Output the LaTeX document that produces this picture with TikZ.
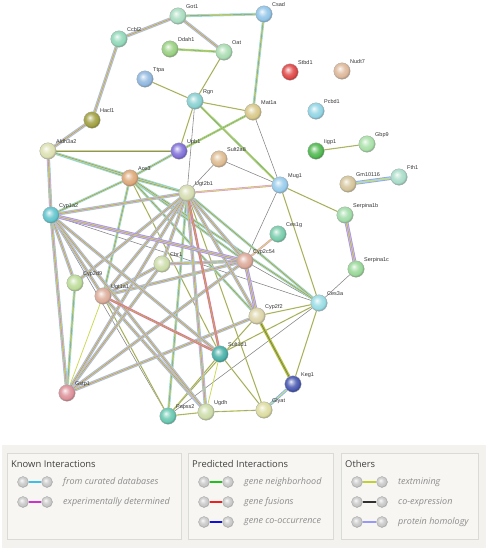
\documentclass[tikz,border=0pt]{standalone}
\usepackage{fontspec}
\setmainfont{Liberation Sans}
\newfontfamily\legfont{Open Sans}
\usetikzlibrary{calc}
\pgfdeclarelayer{bg}
\pgfsetlayers{bg,main}
\definecolor{ccur}{HTML}{3CC0E8}
\definecolor{cexp}{HTML}{D030D0}
\definecolor{cnb}{HTML}{20C020}
\definecolor{cfus}{HTML}{F02020}
\definecolor{cocc}{HTML}{1010E0}
\definecolor{ctm}{HTML}{C0D030}
\definecolor{ccoe}{HTML}{303030}
\definecolor{chom}{HTML}{9898F8}
\definecolor{legbg}{HTML}{F3F2EF}
\definecolor{boxbg}{HTML}{F7F6F3}
\definecolor{boxln}{HTML}{DADAD6}
\definecolor{titc}{HTML}{404040}
\definecolor{itc}{HTML}{8C8C8C}
\colorlet{pballc}{white}
\pgfdeclareradialshading[pballc]{sball}{\pgfqpoint{-7bp}{8bp}}{%
  color(0bp)=(pballc!8!white); color(5bp)=(pballc!40!white);
  color(14bp)=(pballc!85!white); color(22bp)=(pballc);
  color(26bp)=(pballc!80!black); color(50bp)=(pballc!80!black)}
\newcommand\protnode[4]{%
  \definecolor{pc#1}{HTML}{#4}%
  \colorlet{pballc}{pc#1}%
  \node[prot] (#1) at (#2,#3) {};
  \node[lbl] (L#1) at ([shift={(8,-9)}]#1.center) {#1};}
\newcommand\legitem[6]{%
  \node[lball] (#1a) at (#2,#4) {};
  \node[lball] (#1b) at (#3,#4) {};
  \draw[draw=#5, line width=1.3pt] (#1a) -- (#1b);
  \node[legitem] (#1t) at (#3+16,#4) {#6};}
\begin{document}
\begin{tikzpicture}[x=1pt,y=-1pt,
  prot/.style={circle, minimum size=16.5pt, inner sep=0pt, shade, shading=sball, draw=black!35, line width=0.3pt},
  lbl/.style={anchor=west, font=\fontsize{5.5}{6}\selectfont, text=black!80, inner sep=0pt},
  lball/.style={circle, minimum size=11pt, inner sep=0pt, shade, shading=sball, draw=black!35, line width=0.3pt},
  legtitle/.style={anchor=west, font=\legfont\fontsize{9.4}{11}\selectfont, text=titc, inner sep=0pt},
  legitem/.style={anchor=west, font=\legfont\itshape\fontsize{9}{10}\selectfont, text=itc, inner sep=0pt},
  legbox/.style={draw=boxln, fill=boxbg, line width=0.6pt},
  eA/.style={draw=ccur!60, line width=3.4pt, postaction={draw=cexp!50, line width=2.5pt}, postaction={draw=ctm!75, line width=1.5pt}, postaction={draw=ccoe!50, line width=0.45pt}},
  eB/.style={draw=ccur!60, line width=2.6pt, postaction={draw=ctm!75, line width=1.5pt}, postaction={draw=ccoe!55, line width=0.45pt}},
  eC/.style={draw=cexp!55, line width=2.0pt, postaction={draw=ctm!75, line width=1.0pt}},
  eD/.style={draw=ctm!70, line width=1.3pt, postaction={draw=ccoe!55, line width=0.4pt}},
  eE/.style={draw=ctm!80, line width=0.8pt},
  eco/.style={draw=ccoe!60, line width=0.55pt},
  eH/.style={draw=cnb!60, line width=2.2pt, postaction={draw=ctm!75, line width=1.3pt}, postaction={draw=ccoe!55, line width=0.4pt}},
  eF/.style={draw=chom, line width=3.8pt, postaction={draw=cexp!45, line width=2.3pt}, postaction={draw=ctm!75, line width=1.3pt}, postaction={draw=ccoe!50, line width=0.4pt}},
  eFc/.style={draw=chom, line width=3.6pt, postaction={draw=ccur!60, line width=2.2pt}, postaction={draw=ctm!75, line width=1.1pt}},
  eG/.style={draw=cexp!50, line width=2.6pt, postaction={draw=cfus!80, line width=1.7pt}, postaction={draw=ctm!75, line width=0.9pt}, postaction={draw=ccoe!55, line width=0.35pt}},
  eK/.style={draw=ctm!95!black, line width=3.0pt, postaction={draw=ccoe!65, line width=0.7pt}},
  eL/.style={draw=chom, line width=2.8pt, postaction={draw=ccur!65, line width=1.8pt}, postaction={draw=ctm!70, line width=0.8pt}}
]
\useasboundingbox (0,0) rectangle (488,550);
% ---------- proteins ----------
\protnode{Got1}{178}{16}{A8DCC0}
\protnode{Ccbl2}{119}{39}{90D8B8}
\protnode{Ddah1}{170}{49}{98D080}
\protnode{Oat}{224}{52}{A8DCB0}
\protnode{Ttpa}{145}{79}{90B8E0}
\protnode{Rgn}{195}{101}{88D0D0}
\protnode{Hacl1}{92}{120}{A0A040}
\protnode{Aldh3a2}{48}{151}{DCE0B0}
\protnode{Csad}{264}{14}{90C4E8}
\protnode{Stbd1}{290}{72}{E04848}
\protnode{Nudt7}{342}{71}{DDB89A}
\protnode{Mat1a}{253}{112}{D8C888}
\protnode{Pcbd1}{316}{111}{90D4E4}
\protnode{Iigp1}{316}{151}{50B850}
\protnode{Gbp9}{367}{144}{A8E0A8}
\protnode{Upb1}{179}{151}{8070D8}
\protnode{Sult2a8}{219}{159}{DDBB90}
\protnode{Aox3}{130}{178}{DDA878}
\protnode{Ugt2b1}{187}{193}{D4DCB0}
\protnode{Mug1}{280}{185}{98CCEC}
\protnode{Gm10116}{348}{184}{D4C49A}
\protnode{Fth1}{399}{177}{A8DCC8}
\protnode{Cyp1a2}{51}{215}{60C4CC}
\protnode{Serpina1b}{345}{215}{A0DCA8}
\protnode{Ces1g}{278}{234}{78CCAC}
\protnode{Cyp2c54}{245}{261}{DCA898}
\protnode{Cbr1}{162}{264}{CCDCA8}
\protnode{Serpina1c}{356}{269}{98D898}
\protnode{Cyp2d9}{75}{283}{BCDC98}
\protnode{Ugt1a1}{103}{296}{DCAC98}
\protnode{Ces3a}{319}{303}{98DCE4}
\protnode{Cyp2f2}{257}{316}{DCD4A8}
\protnode{Sult1d1}{220}{354}{48B0A8}
\protnode{Keg1}{293}{384}{4858B0}
\protnode{Gstp1}{67}{393}{DC9098}
\protnode{Papss2}{168}{416}{68C8B0}
\protnode{Ugdh}{206}{412}{CCDCA8}
\protnode{Glyat}{264}{410}{DCDCA0}
% ---------- edges ----------
\begin{pgfonlayer}{bg}
\foreach \a/\b in {Rgn/Ugt2b1, Mat1a/Mug1, Sult2a8/Ugt2b1, Sult2a8/Mug1, Mug1/Cyp2c54, Serpina1c/Ces3a, Cyp2c54/Ces3a, Ces3a/Papss2, Cyp1a2/Ces3a, Cyp1a2/Papss2}
  \draw[eco] (\a) -- (\b);
\foreach \a/\b in {Ugt1a1/Gstp1, Sult1d1/Ugdh}
  \draw[eE] (\a) -- (\b);
\foreach \a/\b in {Oat/Rgn, Ttpa/Rgn, Rgn/Mat1a, Rgn/Upb1, Mug1/Serpina1b, Mug1/Ces3a, Iigp1/Gbp9, Ugt1a1/Papss2, Cyp2f2/Ces3a, Ces3a/Keg1, Ces3a/Sult1d1, Sult1d1/Papss2, Sult1d1/Glyat, Ugdh/Glyat, Papss2/Ugdh, Ugt2b1/Glyat, Papss2/Cyp2f2, Aox3/Sult1d1}
  \draw[eD] (\a) -- (\b);
\foreach \a/\b in {Ddah1/Oat, Rgn/Mug1, Mat1a/Upb1}
  \draw[eH] (\a) -- (\b);
\foreach \a/\b in {Got1/Csad, Csad/Mat1a, Aldh3a2/Upb1, Aldh3a2/Aox3, Aldh3a2/Ugt2b1, Upb1/Aox3, Aox3/Ugt2b1, Aox3/Cyp1a2, Cyp2d9/Gstp1, Ugt2b1/Papss2, Ugt2b1/Ces3a, Aox3/Cyp2c54, Aox3/Ces3a, Aox3/Cyp2f2, Aox3/Ugt1a1}
  \draw[eB] (\a) -- (\b);
\foreach \a/\b in {Ugt2b1/Mug1, Ces1g/Cyp2c54}
  \draw[eC] (\a) -- (\b);
\foreach \a/\b in {Got1/Ccbl2, Got1/Oat, Ccbl2/Hacl1, Hacl1/Aldh3a2, Aldh3a2/Cyp1a2, Ugt2b1/Cyp1a2, Cyp1a2/Gstp1, Cyp1a2/Cyp2d9, Cyp1a2/Ugt1a1, Ugt1a1/Cbr1, Ugt1a1/Cyp2c54, Ugt1a1/Ugdh, Ugt1a1/Ugt2b1, Gstp1/Cbr1, Gstp1/Cyp2f2, Gstp1/Cyp2c54, Cbr1/Ugt2b1, Cbr1/Cyp2c54, Ugt2b1/Cyp2c54, Ugt2b1/Ugdh, Ugt2b1/Gstp1, Ugt2b1/Cyp2f2, Ugt2b1/Cyp2d9, Cyp1a2/Ugdh, Cyp1a2/Sult1d1}
  \draw[eA] (\a) -- (\b);
\foreach \a/\b in {Ugt1a1/Sult1d1, Ugt2b1/Sult1d1}
  \draw[eG] (\a) -- (\b);
\foreach \a/\b in {Cyp1a2/Cyp2c54, Cyp2c54/Cyp2f2, Serpina1b/Serpina1c}
  \draw[eF] (\a) -- (\b);
\draw[eFc] (Gm10116) -- (Fth1);
\draw[eK] (Cyp2f2) -- (Keg1);
\draw[eL] (Glyat) -- (Keg1);
\end{pgfonlayer}
% ---------- legend ----------
\fill[legbg] (2,445) rectangle (486,548);
\draw[legbox] (7,453) rectangle (181,539);
\draw[legbox] (188,453) rectangle (333,539);
\draw[legbox] (341,453) rectangle (478,539);
\node[legtitle] (t1) at (11,464) {Known Interactions};
\node[legtitle] (t2) at (192,464) {Predicted Interactions};
\node[legtitle] (t3) at (345,464) {Others};
\colorlet{pballc}{black!22}
\legitem{k1}{23}{47}{482}{ccur}{from curated databases}
\legitem{k2}{23}{47}{502}{cexp}{experimentally determined}
\legitem{p1}{204}{228}{482}{cnb}{gene neighborhood}
\legitem{p2}{204}{228}{502}{cfus}{gene fusions}
\legitem{p3}{204}{228}{522}{cocc}{gene co-occurrence}
\legitem{o1}{357}{382}{482}{ctm}{textmining}
\legitem{o2}{357}{382}{502}{ccoe}{co-expression}
\legitem{o3}{357}{382}{522}{chom}{protein homology}
\end{tikzpicture}
\end{document}
